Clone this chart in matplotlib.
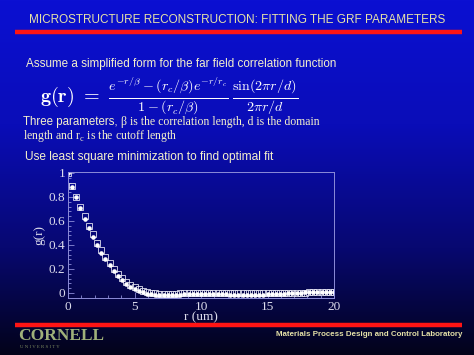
import numpy as np
import matplotlib
matplotlib.use("Agg")
import matplotlib.pyplot as plt
from matplotlib.colors import LinearSegmentedColormap

# sampling grid of the correlation data (um)
r = np.linspace(0, 20, 65)

# measured correlation (filled white dots)
g_data = [1.00, 0.88, 0.80, 0.71, 0.62, 0.54, 0.47, 0.40, 0.33, 0.28,
          0.23, 0.18, 0.14, 0.105, 0.078, 0.053, 0.030, 0.018, 0.004, -0.005,
          -0.012, -0.016, -0.018, -0.018, -0.017, -0.016, -0.015, -0.013, -0.012, -0.010,
          -0.009, -0.008, -0.007, -0.007, -0.008, -0.009, -0.010, -0.011, -0.012, -0.013,
          -0.014, -0.015, -0.016, -0.016, -0.016, -0.015, -0.014, -0.013, -0.012, -0.010,
          -0.009, -0.007, -0.005, -0.003, -0.001, 0.001, 0.003, 0.004, 0.005, 0.006,
          0.007, 0.008, 0.009, 0.010, 0.012]

# least-squares fit (open squares)
g_fit = [1.00, 0.89, 0.80, 0.72, 0.64, 0.56, 0.49, 0.42, 0.36, 0.30,
         0.25, 0.20, 0.16, 0.125, 0.095, 0.070, 0.050, 0.033, 0.020, 0.010,
         0.003, -0.002, -0.005, -0.006, -0.006, -0.006, -0.005, -0.004, -0.003, -0.002,
         -0.001, 0.000, 0.000, 0.000, 0.000, 0.000, 0.000, -0.001, -0.001, -0.001,
         -0.001, -0.001, -0.001, -0.001, -0.001, 0.000, 0.000, 0.000, 0.000, 0.001,
         0.001, 0.001, 0.002, 0.002, 0.002, 0.003, 0.003, 0.003, 0.004, 0.004,
         0.004, 0.005, 0.005, 0.005, 0.006]

x_ticks = [0, 5, 10, 15, 20]
y_ticks = [0, 0.2, 0.4, 0.6, 0.8, 1]
y_ticklabels = ["0", "0.2", "0.4", "0.6", "0.8", "1"]

W, H = 474, 355
fig = plt.figure(figsize=(W / 100, H / 100), dpi=100)

# slide background: blue to near black
bg = fig.add_axes([0, 0, 1, 1])
cmap = LinearSegmentedColormap.from_list(
    "slide", [(0.0, "#0b10d2"), (0.35, "#0a0db8"), (0.7, "#070870"), (1.0, "#03031a")])
grad = np.linspace(0, 1, 256).reshape(-1, 1)
bg.imshow(grad, aspect="auto", cmap=cmap, extent=[0, W, H, 0])
bg.set_xlim(0, W)
bg.set_ylim(H, 0)
bg.axis("off")

title_col = "#e6e2a8"
text_col = "#f4f0cc"

bg.text(237, 20, "MICROSTRUCTURE RECONSTRUCTION: FITTING THE GRF PARAMETERS",
        ha="center", va="center", fontsize=8.5, color=title_col, family="Liberation Sans")
bg.plot([15, 462], [32, 32], color="#ff1414", lw=3.2, solid_capstyle="butt")

bg.text(26, 64, "Assume a simplified form for the far field correlation function",
        ha="left", va="center", fontsize=8.4, color=text_col, family="Liberation Sans")

plt.rcParams["mathtext.fontset"] = "cm"
bg.text(40, 96,
        r"$\mathbf{g(r)}\ =\ \frac{e^{-r/\beta}-(r_c/\beta)e^{-r/r_c}}{1-(r_c/\beta)}"
        r"\,\frac{\sin(2\pi r/d)}{2\pi r/d}$",
        ha="left", va="center", fontsize=14.5, color="white")

t1 = bg.text(23, 122, "Three parameters, ", ha="left", va="center", fontsize=8.3,
             color=text_col, family="Liberation Sans")
bg.annotate("\u03b2 is the correlation length, d is the domain", xy=(1, 0.5),
            xycoords=t1, ha="left", va="center", fontsize=8.5, color=text_col,
            family="Liberation Serif")
bg.text(23, 136, r"length and r$_\mathregular{c}$ is the cutoff length", ha="left",
        va="center", fontsize=8.5, color=text_col, family="Liberation Serif")

bg.text(25, 157, "Use least square minimization to find optimal fit",
        ha="left", va="center", fontsize=8.6, color=text_col, family="Liberation Sans")

# footer
bg.plot([15, 462], [325, 325], color="#ff1414", lw=3.2, solid_capstyle="butt")
bg.text(462, 335, "Materials Process Design and Control Laboratory", ha="right",
        va="center", fontsize=5.7, fontweight="bold", color=title_col,
        family="Liberation Sans")
bg.text(18, 336, "CORNELL", ha="left", va="center", fontsize=12.5, fontweight="bold",
        color="#9fb07a", family="Liberation Serif")
bg.text(20, 347, "U N I V E R S I T Y", ha="left", va="center", fontsize=3.5,
        color="#7d8a60", family="Liberation Serif")

# chart
ax = fig.add_axes([68 / W, 1 - 298 / H, (334 - 68) / W, (298 - 172) / H])
ax.patch.set_alpha(0)
ax.plot(r, g_fit, ls="none", marker="s", ms=4.5, mfc="none", mec="#e0e0f0", mew=0.6)
ax.plot(r, g_data, ls="none", marker="o", ms=3.3, mfc="white", mec="white", mew=0)
ax.set_xlim(0, 20)
ax.set_ylim(-0.042, 1.008)
ax.set_xticks(x_ticks)
ax.set_yticks(y_ticks)
ax.set_yticklabels(y_ticklabels)
ax.set_xticks(np.arange(0, 21, 1), minor=True)
ax.set_yticks(np.arange(0, 1.01, 0.04), minor=True)

axis_col = "#8c8cd8"
for s in ax.spines.values():
    s.set_color(axis_col)
    s.set_linewidth(0.7)
ax.tick_params(which="both", direction="in", colors=axis_col, labelcolor="#dcdcec",
               labelsize=9.5, width=0.6)
ax.tick_params(which="major", length=4, pad=2)
ax.tick_params(which="minor", length=2)
for lab in ax.get_xticklabels() + ax.get_yticklabels():
    lab.set_family("Liberation Serif")
ax.set_xlabel("r (um)", family="Liberation Serif", fontsize=9.5, color="#dcdcec",
              labelpad=-1)
ax.set_ylabel("g(r)", family="Liberation Serif", fontsize=9.5, color="#dcdcec",
              labelpad=2)

fig.savefig("out.png", dpi=100)
